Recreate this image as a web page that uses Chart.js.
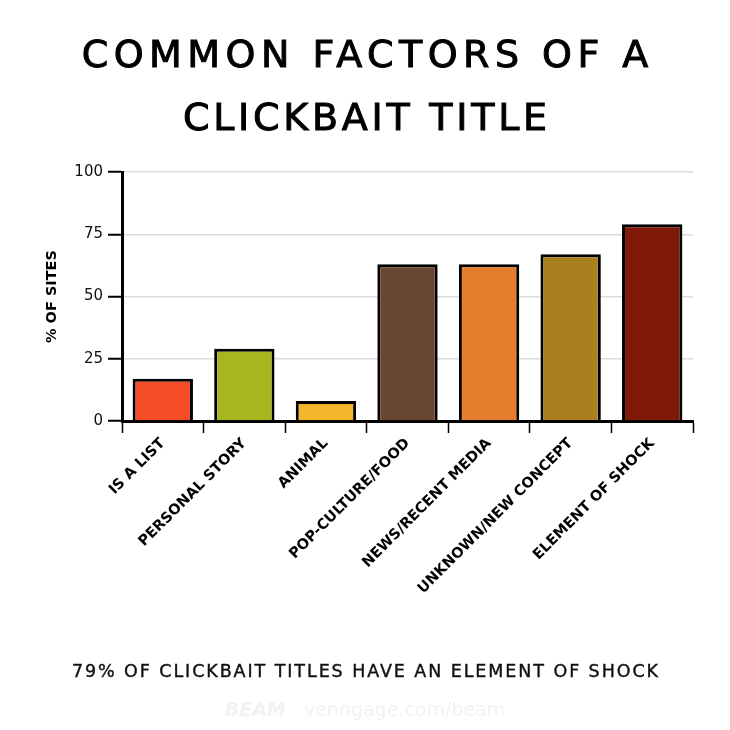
<!DOCTYPE html>
<html>
<head>
<meta charset="utf-8">
<script src="https://cdn.jsdelivr.net/npm/chart.js@4"></script>
<style>
  body { margin: 0; background: #fff; }
  #wrap { position: relative; width: 730px; height: 730px; }
  canvas { position: absolute; left: 0; top: 0; }
  .line {
    position: absolute; left: 0; width: 730px; text-align: center; white-space: nowrap;
    font-family: "DejaVu Sans", sans-serif; color: #000;
  }
  .title { font-size: 38px; line-height: 40px; -webkit-text-stroke: 1px #000; }
  .caption { font-size: 17.5px; line-height: 20px; color: #111; -webkit-text-stroke: 0.4px #111; }
  .mark { top: 698px; font-size: 19px; color: #f2f2f2; }
</style>
</head>
<body>
<div id="wrap">
  <canvas id="chart-factors" width="730" height="730"></canvas>
  <div class="line title" id="t1" style="top:34px">COMMON FACTORS OF A</div>
  <div class="line title" id="t2" style="top:97px">CLICKBAIT TITLE</div>
  <div class="line caption" id="cap" style="top:661px">79% OF CLICKBAIT TITLES HAVE AN ELEMENT OF SHOCK</div>
  <div class="line mark"><b style="font-style:italic">BEAM</b>&nbsp;&nbsp;&nbsp;venngage.com/beam</div>
</div>
<script>
const factors = [
  "IS A LIST",
  "PERSONAL STORY",
  "ANIMAL",
  "POP-CULTURE/FOOD",
  "NEWS/RECENT MEDIA",
  "UNKNOWN/NEW CONCEPT",
  "ELEMENT OF SHOCK",
];
const percentSites = [17, 29, 8, 63, 63, 67, 79];
const barColors = ["#f44d28", "#a8b51f", "#f3b52a", "#694632", "#e57d2f", "#aa7f1d", "#7f1a08"];
const yTicks = [0, 25, 50, 75, 100];

// stretch the heading lines to the width they have in the original (wide font)
function spreadTo(id, target) {
  const el = document.getElementById(id);
  const span = document.createElement("span");
  span.textContent = el.textContent;
  el.textContent = "";
  el.appendChild(span);
  const n = span.textContent.length;
  const w = span.getBoundingClientRect().width;
  span.style.letterSpacing = ((target - w) / n).toFixed(2) + "px";
  span.style.marginRight = (-(target - w) / n).toFixed(2) + "px";
}
spreadTo("t1", 572);
spreadTo("t2", 368);
spreadTo("cap", 588);

const ctx = document.getElementById("chart-factors").getContext("2d");

new Chart(ctx, {
  type: "bar",
  data: {
    labels: factors,
    datasets: [
      {
        data: percentSites,
        backgroundColor: barColors,
        borderColor: "#000",
        borderWidth: 3,
        borderSkipped: "bottom",
        barPercentage: 0.74,
        categoryPercentage: 1,
      },
    ],
  },
  options: {
    responsive: false,
    animation: false,
    layout: { padding: { top: 172, right: 37, left: 0, bottom: 0 } },
    plugins: {
      legend: { display: false },
      tooltip: { enabled: false },
    },
    scales: {
      x: {
        border: { display: true, color: "#000", width: 3 },
        grid: { drawOnChartArea: false, tickLength: 12, tickColor: "#000", tickWidth: 1.5 },
        ticks: {
          minRotation: 45,
          maxRotation: 45,
          color: "#000",
          padding: 2,
          font: { family: "DejaVu Sans", size: 14.5, weight: "bold" },
        },
        afterFit: (scale) => { scale.height = 309; },
      },
      y: {
        min: 0,
        max: 100,
        border: { display: true, color: "#000", width: 3 },
        grid: { color: "#dcdcdc", lineWidth: 1.5, tickLength: 14, tickColor: "#000", tickWidth: 2 },
        afterBuildTicks: (scale) => { scale.ticks = yTicks.map((v) => ({ value: v })); },
        ticks: {
          color: "#111",
          padding: 5,
          font: { family: "DejaVu Sans", size: 15 },
        },
        title: {
          display: true,
          text: "% OF SITES",
          color: "#000",
          padding: { top: 44, bottom: 0 },
          font: { family: "DejaVu Sans", size: 14.5, weight: "bold" },
        },
        afterFit: (scale) => { scale.width = 122; },
      },
    },
  },
});
</script>
</body>
</html>
